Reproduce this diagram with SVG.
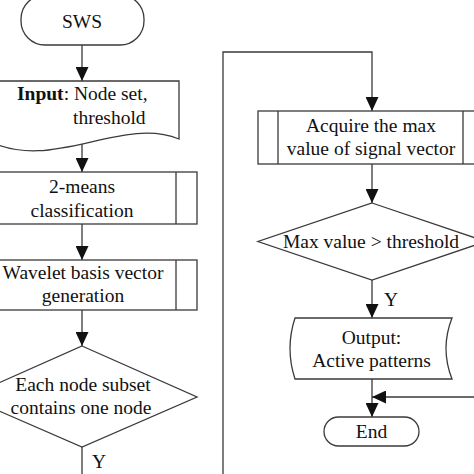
<svg xmlns="http://www.w3.org/2000/svg" width="474" height="474" viewBox="0 0 474 474">
<style>
.s{fill:#fff;stroke:#3a3a3a;stroke-width:1.3}
.c{fill:none;stroke:#3a3a3a;stroke-width:1.3}
text{font-family:"Liberation Serif","Times New Roman",serif;font-size:19.5px;fill:#111}
.m{text-anchor:middle}
</style>
<defs>
<marker id="ah" markerUnits="userSpaceOnUse" markerWidth="14" markerHeight="13" refX="14" refY="6.5" orient="auto">
<path d="M0,0 L14,6.5 L0,13 Z" fill="#111"/>
</marker>
</defs>
<rect width="474" height="474" fill="#fff"/>
<g id="connectors">
<path class="c" d="M82,45 V81" marker-end="url(#ah)"/>
<path class="c" d="M82,140 V172" marker-end="url(#ah)"/>
<path class="c" d="M82,224 V260" marker-end="url(#ah)"/>
<path class="c" d="M82,310 V346" marker-end="url(#ah)"/>
<path class="c" d="M82,447 V474"/>
<path class="c" d="M223,474 V52 H372 V111" marker-end="url(#ah)"/>
<path class="c" d="M372,164 V203" marker-end="url(#ah)"/>
<path class="c" d="M372,280 V318" marker-end="url(#ah)"/>
<path class="c" d="M372,379 V417" marker-end="url(#ah)"/>
<path class="c" d="M474,397 H372" marker-end="url(#ah)"/>
<text x="92" y="468">Y</text>
<text x="384" y="306">Y</text>
</g>
<g id="sws">
<rect class="s" x="21" y="-5" width="123" height="50" rx="24"/>
<text class="m" x="82" y="28">SWS</text>
</g>
<g id="input">
<path class="s" d="M-15,81 H179 V139 C120,115 50,175 -15,139 Z"/>
<text x="17" y="100"><tspan font-weight="bold">Input</tspan>: Node set,</text>
<text x="73" y="124">threshold</text>
</g>
<g id="kmeans">
<rect class="s" x="-12" y="172" width="209" height="52"/>
<path class="c" d="M176,172 V224"/>
<text class="m" x="82" y="193">2-means</text>
<text class="m" x="82" y="217">classification</text>
</g>
<g id="wavelet">
<rect class="s" x="-12" y="260" width="209" height="50"/>
<path class="c" d="M176,260 V310"/>
<text class="m" x="83" y="279">Wavelet basis vector</text>
<text class="m" x="83" y="302">generation</text>
</g>
<g id="decision1">
<path class="s" d="M82,346 L197,397 L82,447 L-33,397 Z"/>
<text class="m" x="83" y="391">Each node subset</text>
<text class="m" x="81" y="414">contains one node</text>
</g>
<g id="acquire">
<rect class="s" x="258" y="111" width="225" height="53"/>
<path class="c" d="M278,111 V164 M463,111 V164"/>
<text class="m" x="371" y="132">Acquire the max</text>
<text class="m" x="371" y="155">value of signal vector</text>
</g>
<g id="decision2">
<path class="s" d="M372,203 L486,241.5 L372,280 L258,241.5 Z"/>
<text class="m" x="371" y="248">Max value &gt; threshold</text>
</g>
<g id="output">
<path class="s" d="M295,318 H452 Q440,348.5 452,379 H295 Q285,348.5 295,318 Z"/>
<text class="m" x="371.5" y="344">Output:</text>
<text class="m" x="371.5" y="367">Active patterns</text>
</g>
<g id="end">
<rect class="s" x="324" y="417" width="95" height="29" rx="14.5"/>
<text class="m" x="371.5" y="438">End</text>
</g>
</svg>
